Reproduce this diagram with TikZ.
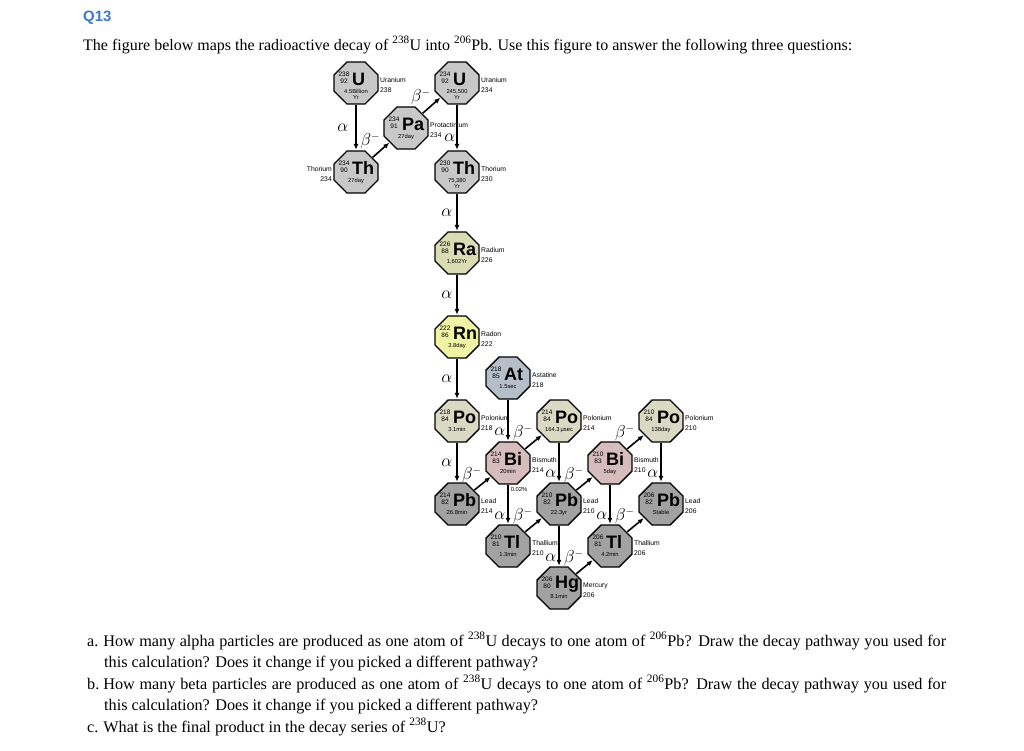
\documentclass[tikz,border=0pt]{standalone}
\usepackage{fontspec}
\setmainfont{Liberation Serif}
\setsansfont{Liberation Sans}
\usetikzlibrary{calc,arrows.meta}
\definecolor{cU}{HTML}{C8C8C8}
\definecolor{cRa}{HTML}{DADDB4}
\definecolor{cRn}{HTML}{F0F2A4}
\definecolor{cAt}{HTML}{B6BECA}
\definecolor{cPo}{HTML}{DADAC4}
\definecolor{cBi}{HTML}{D6BCBC}
\definecolor{cPb}{HTML}{A2A2A2}
\definecolor{qblue}{HTML}{3B78C8}
\tikzset{
  oct/.style={circle,minimum size=44pt,inner sep=0pt},
  octline/.style={draw=black,line width=1.4pt,line join=miter},
  small/.style={font=\sffamily\fontsize{6.5}{7.2}\selectfont,align=center,inner sep=0pt},
  tiny/.style={font=\sffamily\fontsize{5.8}{6.5}\selectfont,align=center,inner sep=0pt},
  lab/.style={font=\sffamily\fontsize{6.8}{10.5}\selectfont,inner sep=0pt},
  sym/.style={font=\sffamily\bfseries\fontsize{18}{18}\selectfont,inner sep=0pt},
  dec/.style={-{Latex[length=6pt,width=5pt]},line width=1.6pt},
  gk/.style={font=\fontsize{16}{16}\selectfont,inner sep=1pt}
}
\newcommand\iso[9]{%
  \node[oct] (#1) at #2 {};
  \draw[octline,fill=#3] ($(#1)+(-9,-21)$) -- ($(#1)+(9,-21)$) -- ($(#1)+(22,-8)$) -- ($(#1)+(22,8)$) -- ($(#1)+(9,21)$) -- ($(#1)+(-9,21)$) -- ($(#1)+(-22,8)$) -- ($(#1)+(-22,-8)$) -- cycle;
  \node[small] at ($(#1)+(-12,-5)$) {#4\\#5};
  \node[sym,anchor=west] at ($(#1)+(-4,-4)$) {#6};
  \node[tiny,anchor=north] at ($(#1)+(0,6)$) {#7};
  \node[lab,#8] at ($(#1)+(0,2)$) {#9};
}
\begin{document}
\begin{tikzpicture}[x=1pt,y=-1pt]
\useasboundingbox (0,0) rectangle (1024,751);
\node[anchor=west,text=qblue,font=\sffamily\bfseries\fontsize{15}{15}\selectfont,inner sep=0pt] (q) at (83,18) {Q13};
\node[anchor=west,font=\fontsize{16}{16}\selectfont,inner sep=0pt] (intro) at (83,45) {The figure below maps the radioactive decay of \textsuperscript{238}U into \textsuperscript{206}Pb. Use this figure to answer the following three questions:};

\iso{U238}{(356,83)}{cU}{238}{92}{U}{4.5Billion\\Yr}{anchor=west,xshift=24pt,align=left}{Uranium\\238}
\iso{U234}{(457,83)}{cU}{234}{92}{U}{245,500\\Yr}{anchor=west,xshift=24pt,align=left}{Uranium\\234}
\iso{Pa}{(406,128)}{cU}{234}{91}{Pa}{27day}{anchor=west,xshift=24pt,align=left}{Protactinium\\234}
\iso{Th234}{(356,172)}{cU}{234}{90}{Th}{27day}{anchor=east,xshift=-24pt,align=right}{Thorium\\234}
\iso{Th230}{(457,172)}{cU}{230}{90}{Th}{75,380\\Yr}{anchor=west,xshift=24pt,align=left}{Thorium\\230}
\iso{Ra}{(457,253)}{cRa}{226}{88}{Ra}{1,602Yr}{anchor=west,xshift=24pt,align=left}{Radium\\226}
\iso{Rn}{(457,337)}{cRn}{222}{86}{Rn}{3.8day}{anchor=west,xshift=24pt,align=left}{Radon\\222}
\iso{At}{(508,378)}{cAt}{218}{85}{At}{1.5sec}{anchor=west,xshift=24pt,align=left}{Astatine\\218}
\iso{Po218}{(457,421)}{cPo}{218}{84}{Po}{3.1min}{anchor=west,xshift=24pt,align=left}{Polonium\\218}
\iso{Bi214}{(508,463)}{cBi}{214}{83}{Bi}{20min}{anchor=west,xshift=24pt,align=left}{Bismuth\\214}
\iso{Pb214}{(457,504)}{cPb}{214}{82}{Pb}{26.8min}{anchor=west,xshift=24pt,align=left}{Lead\\214}
\iso{Po214}{(559,421)}{cPo}{214}{84}{Po}{164.3\,μsec}{anchor=west,xshift=24pt,align=left}{Polonium\\214}
\iso{Tl210}{(508,546)}{cPb}{210}{81}{Tl}{1.3min}{anchor=west,xshift=24pt,align=left}{Thallium\\210}
\iso{Pb210}{(559,504)}{cPb}{210}{82}{Pb}{22.3yr}{anchor=west,xshift=24pt,align=left}{Lead\\210}
\iso{Hg}{(559,588)}{cPb}{206}{80}{Hg}{8.1min}{anchor=west,xshift=24pt,align=left}{Mercury\\206}
\iso{Bi210}{(610,463)}{cBi}{210}{83}{Bi}{5day}{anchor=west,xshift=24pt,align=left}{Bismuth\\210}
\iso{Tl206}{(610,546)}{cPb}{206}{81}{Tl}{4.2min}{anchor=west,xshift=24pt,align=left}{Thallium\\206}
\iso{Po210}{(661,421)}{cPo}{210}{84}{Po}{138day}{anchor=west,xshift=24pt,align=left}{Polonium\\210}
\iso{Pb206}{(661,504)}{cPb}{206}{82}{Pb}{Stable}{anchor=west,xshift=24pt,align=left}{Lead\\206}

\node[tiny] (pct) at (519,489) {0.02\%};

% alpha decays
\draw[dec] (U238) -- node[gk,left=6pt]{$\alpha$} (Th234);
\draw[dec] (U234) -- node[gk,pos=0.72,left=0pt]{$\alpha$} (Th230);
\draw[dec] (Th230) -- node[gk,left=3pt]{$\alpha$} (Ra);
\draw[dec] (Ra) -- node[gk,left=3pt]{$\alpha$} (Rn);
\draw[dec] (Rn) -- node[gk,left=3pt]{$\alpha$} (Po218);
\draw[dec] (Po218) -- node[gk,left=3pt]{$\alpha$} (Pb214);
\draw[dec] (At) -- node[gk,pos=0.78,left=1pt]{$\alpha$} (Bi214);
\draw[dec] (Bi214) -- node[gk,pos=0.8,left=1pt]{$\alpha$} (Tl210);
\draw[dec] (Po214) -- node[gk,pos=0.8,left=1pt]{$\alpha$} (Pb210);
\draw[dec] (Pb210) -- node[gk,pos=0.8,left=1pt]{$\alpha$} (Hg);
\draw[dec] (Bi210) -- node[gk,pos=0.8,left=1pt]{$\alpha$} (Tl206);
\draw[dec] (Po210) -- node[gk,pos=0.8,left=1pt]{$\alpha$} (Pb206);
% beta decays
\draw[dec] (Th234) -- node[gk,above left=-1pt]{$\beta^-$} (Pa);
\draw[dec] (Pa) -- node[gk,above left=-1pt]{$\beta^-$} (U234);
\draw[dec] (Pb214) -- node[gk,above left=-1pt]{$\beta^-$} (Bi214);
\draw[dec] (Bi214) -- node[gk,above left=-1pt]{$\beta^-$} (Po214);
\draw[dec] (Tl210) -- node[gk,above left=-1pt]{$\beta^-$} (Pb210);
\draw[dec] (Pb210) -- node[gk,above left=-1pt]{$\beta^-$} (Bi210);
\draw[dec] (Hg) -- node[gk,above left=-1pt]{$\beta^-$} (Tl206);
\draw[dec] (Bi210) -- node[gk,above left=-1pt]{$\beta^-$} (Po210);
\draw[dec] (Tl206) -- node[gk,above left=-1pt]{$\beta^-$} (Pb206);

\begin{scope}[every node/.style={inner sep=0pt,font=\fontsize{16.2}{21.5}\selectfont,anchor=north west,text width=859pt,align=justify}]
\node (ta) at (87,632) {\hangindent=17pt\hangafter=1 a.\hspace{5pt}How many alpha particles are produced as one atom of \textsuperscript{238}U decays to one atom of \textsuperscript{206}Pb? Draw the decay pathway you used for this calculation? Does it change if you picked a different pathway?\par};
\node (tb) at (87,675) {\hangindent=17pt\hangafter=1 b.\hspace{4pt}How many beta particles are produced as one atom of \textsuperscript{238}U decays to one atom of \textsuperscript{206}Pb? Draw the decay pathway you used for\linebreak this calculation? Does it change if you picked a different pathway?\par};
\node (tc) at (87,718) {c.\hspace{5pt}What is the final product in the decay series of \textsuperscript{238}U?};
\end{scope}
\end{tikzpicture}
\end{document}
